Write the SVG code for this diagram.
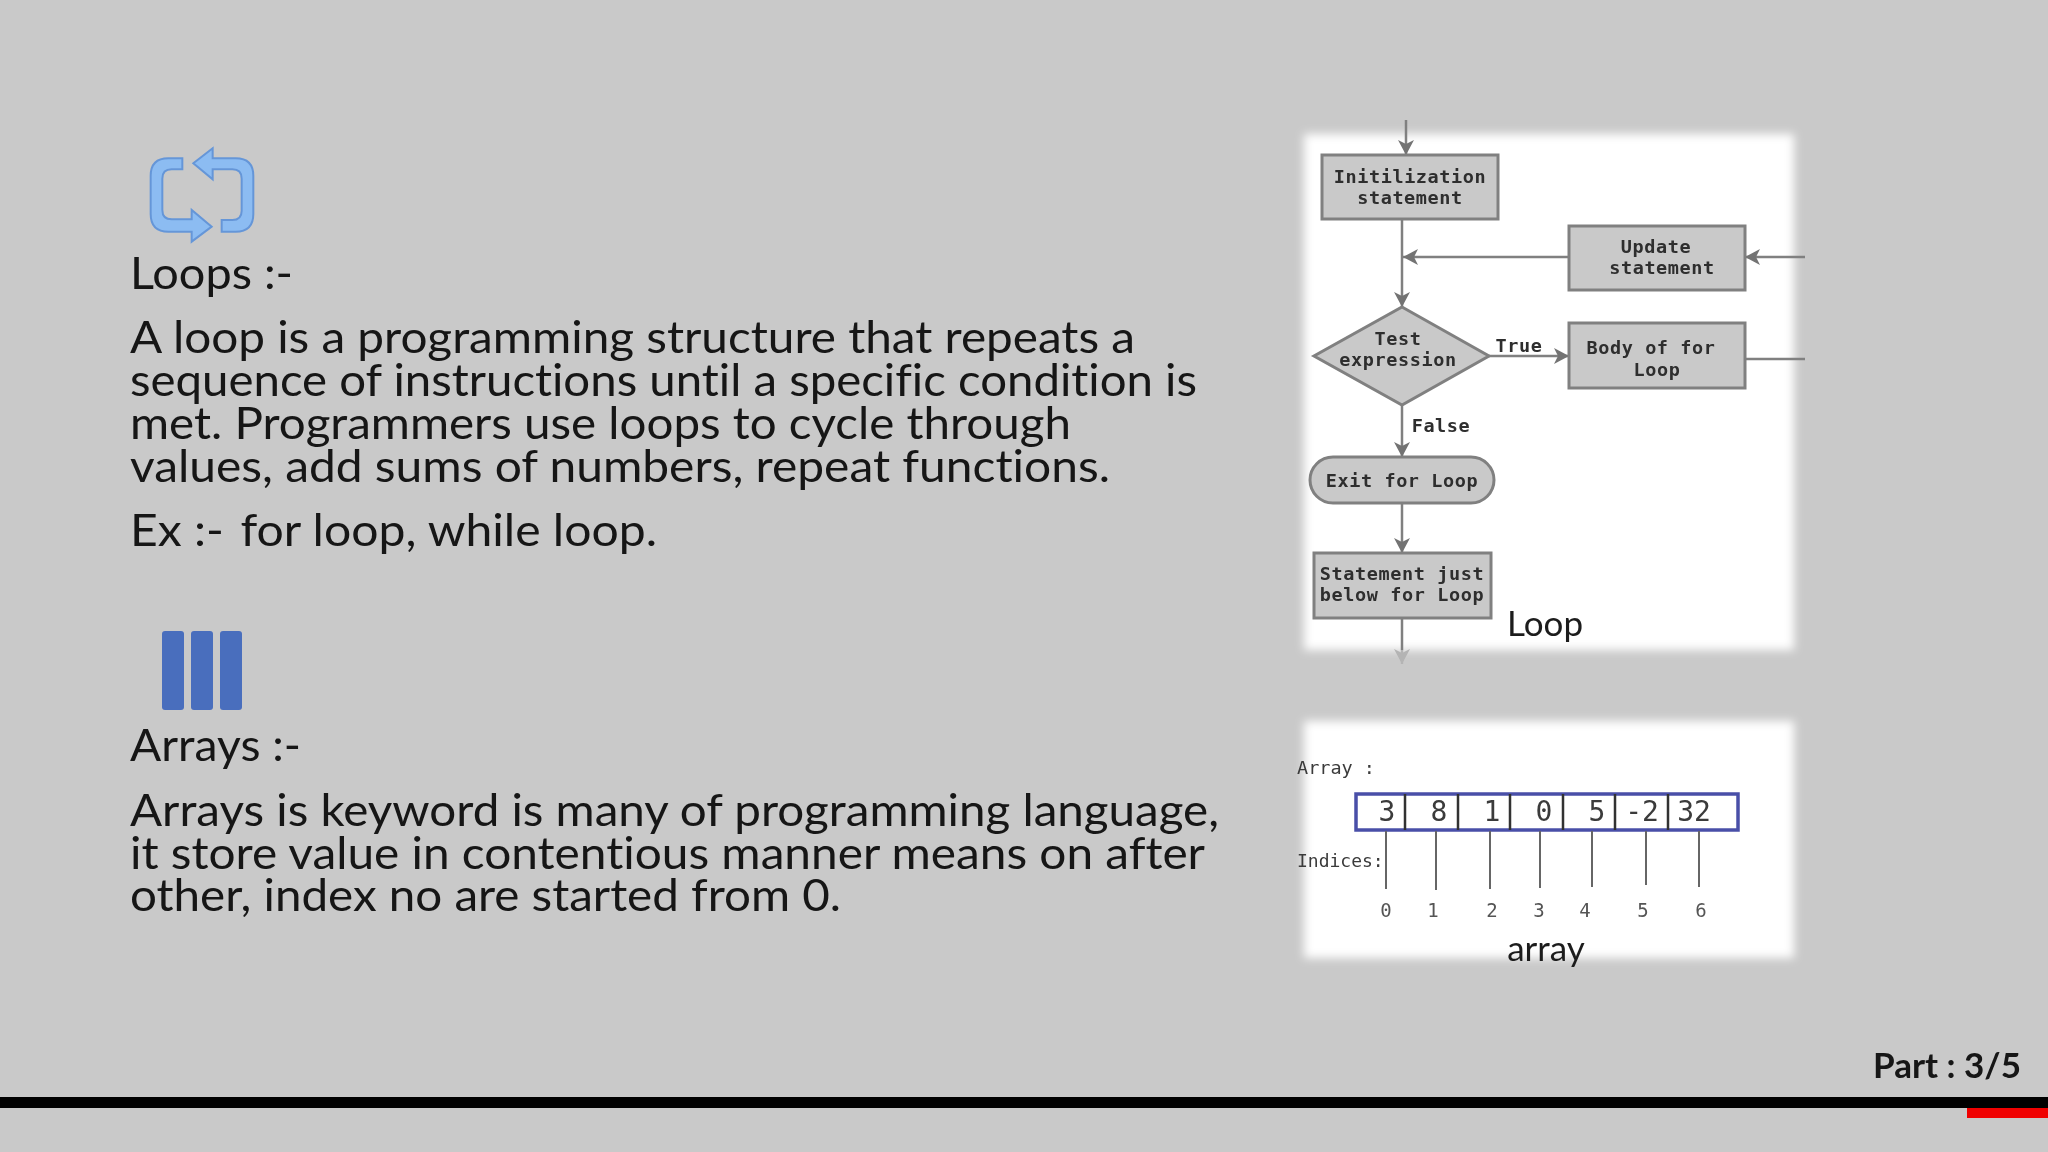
<svg xmlns="http://www.w3.org/2000/svg" width="2048" height="1152" viewBox="0 0 2048 1152">
<style>
text{font-variant-ligatures:none}
.t{font-family:Lato,"Open Sans",sans-serif;fill:#141414}
.b{font-size:45px}
.m{font-family:"DejaVu Sans Mono","Liberation Mono",monospace;font-size:18.5px;letter-spacing:.6px;font-weight:700;fill:#2e2e2e;text-anchor:middle}
.n{fill:#c9c9c9;stroke:#808080;stroke-width:3}
.c{fill:none;stroke:#808080;stroke-width:2.5}
.d{font-family:"DejaVu Sans Mono","Liberation Mono",monospace;fill:#3a3a3a}
.v{font-size:28px;text-anchor:middle}
.i{font-size:19px;text-anchor:middle;fill:#555}
.ix{stroke:#666;stroke-width:2}
.dv{stroke:#333;stroke-width:2.5}
.l{font-family:Lato,"Open Sans",sans-serif;font-size:35px;fill:#1c1c1c}
</style>
<defs>
<filter id="edge" filterUnits="userSpaceOnUse" x="1240" y="90" width="620" height="920"><feGaussianBlur stdDeviation="5"/></filter>
<filter id="soft" filterUnits="userSpaceOnUse" x="0" y="0" width="2048" height="1152"><feGaussianBlur stdDeviation="0.75"/></filter>
<marker id="a" markerUnits="userSpaceOnUse" markerWidth="16" markerHeight="16" refX="15" refY="8" orient="auto"><path d="M0 0L15 8L0 16L4 8Z" fill="#737373"/></marker>
<marker id="f" markerUnits="userSpaceOnUse" markerWidth="16" markerHeight="16" refX="15" refY="8" orient="auto"><path d="M0 0L15 8L0 16L4 8Z" fill="#b4b4b4"/></marker>
</defs>
<rect id="background" width="2048" height="1152" fill="#c9c9c9"/>
<g id="panels" filter="url(#edge)" fill="#fff">
<rect x="1304" y="134" width="490" height="516"/>
<rect x="1304" y="721" width="490" height="237"/>
</g>
<g filter="url(#soft)">
<g id="loops-icon" transform="translate(120 130) scale(.33333)">
<path d="M187 85V118H155Q127 118 127 146V240Q127 268 155 268H215V240L275 290L215 335V305H145Q92 305 92 252V138Q92 85 145 85Z" fill="#8cbcf2" stroke="#6596d8" stroke-width="6"/>
<path d="M305 305V270H337Q365 270 365 242V146Q365 118 337 118H278V148L220 100L278 55V85H347Q400 85 400 138V252Q400 305 347 305Z" fill="#8cbcf2" stroke="#6596d8" stroke-width="6"/>
</g>
<g id="arrays-icon" fill="#4a6ebd">
<rect x="162" y="631" width="22" height="79" rx="3"/>
<rect x="191" y="631" width="22" height="79" rx="3"/>
<rect x="220" y="631" width="22" height="79" rx="3"/>
</g>
<g id="left-text">
<text class="t b" x="130" y="289" textLength="163" lengthAdjust="spacingAndGlyphs">Loops :-</text>
<text class="t b" x="130" y="353" textLength="1005" lengthAdjust="spacingAndGlyphs">A loop is a programming structure that repeats a</text>
<text class="t b" x="130" y="396" textLength="1067" lengthAdjust="spacingAndGlyphs">sequence of instructions until a specific condition is</text>
<text class="t b" x="130" y="439" textLength="941" lengthAdjust="spacingAndGlyphs">met. Programmers use loops to cycle through</text>
<text class="t b" x="130" y="482" textLength="980" lengthAdjust="spacingAndGlyphs">values, add sums of numbers, repeat functions.</text>
<text class="t b" x="130" y="546" textLength="527" lengthAdjust="spacingAndGlyphs">Ex :-<tspan dx="4"> for loop, while loop.</tspan></text>
<text class="t b" x="130" y="761" textLength="171" lengthAdjust="spacingAndGlyphs">Arrays :-</text>
<text class="t b" x="130" y="826" textLength="1089" lengthAdjust="spacingAndGlyphs">Arrays is keyword is many of programming language,</text>
<text class="t b" x="130" y="869" textLength="1075" lengthAdjust="spacingAndGlyphs">it store value in contentious manner means on after</text>
<text class="t b" x="130" y="911" textLength="711" lengthAdjust="spacingAndGlyphs">other, index no are started from 0.</text>
</g>
<g id="connectors">
<path class="c" d="M1406 120V155" marker-end="url(#a)"/>
<path class="c" d="M1402 219V307" marker-end="url(#a)"/>
<path class="c" d="M1805 257H1745" marker-end="url(#a)"/>
<path class="c" d="M1569 257H1403" marker-end="url(#a)"/>
<path class="c" d="M1489 356H1569" marker-end="url(#a)"/>
<path class="c" d="M1745 359H1805"/>
<path class="c" d="M1402 405V457" marker-end="url(#a)"/>
<path class="c" d="M1402 503V553" marker-end="url(#a)"/>
<path class="c" d="M1402 618V650"/>
<path class="c" style="stroke:#b4b4b4" d="M1402 650V664" marker-end="url(#f)"/>
</g>
<g id="init"><rect class="n" x="1322" y="155" width="176" height="64"/><text class="m" x="1410" y="183">Initilization</text><text class="m" x="1410" y="204">statement</text></g>
<g id="update"><rect class="n" x="1569" y="226" width="176" height="64"/><text class="m" x="1656" y="253">Update</text><text class="m" x="1662" y="274">statement</text></g>
<g id="test"><path class="n" d="M1402 307L1489 356L1402 405L1314 356Z"/><text class="m" x="1398" y="345">Test</text><text class="m" x="1398" y="366">expression</text></g>
<g id="body"><rect class="n" x="1569" y="323" width="176" height="65"/><text class="m" x="1651" y="354">Body of for</text><text class="m" x="1657" y="376">Loop</text></g>
<g id="exit"><rect class="n" x="1310" y="457" width="184" height="46" rx="23"/><text class="m" x="1402" y="487">Exit for Loop</text></g>
<g id="after"><rect class="n" x="1314" y="553" width="177" height="65"/><text class="m" x="1402" y="580">Statement just</text><text class="m" x="1402" y="601">below for Loop</text></g>
<text class="m" x="1519" y="352">True</text>
<text class="m" x="1441" y="432">False</text>
<text class="l" x="1507" y="636">Loop</text>
<g id="array">
<text class="d" x="1297" y="774" font-size="18.5" fill="#666">Array :</text>
<text class="d" x="1297" y="867" font-size="18" fill="#666">Indices:</text>
<rect x="1356" y="794" width="382" height="36" fill="#fff" stroke="#4a4fa8" stroke-width="3.5"/>
<path class="dv" d="M1405 794V830M1458 794V830M1510 794V830M1563 794V830M1615 794V830M1668 794V830"/>
<g class="d v"><text x="1387" y="821">3</text><text x="1439" y="821">8</text><text x="1492" y="821">1</text><text x="1544" y="821">0</text><text x="1597" y="821">5</text><text x="1642" y="821">-2</text><text x="1694" y="821">32</text></g>
<path class="ix" d="M1386 831V889M1436 831V890M1490 831V889M1540 831V888M1592 831V887M1646 831V885M1699 831V887"/>
<g class="d i"><text x="1386" y="917">0</text><text x="1433" y="917">1</text><text x="1492" y="917">2</text><text x="1539" y="917">3</text><text x="1585" y="917">4</text><text x="1643" y="917">5</text><text x="1701" y="917">6</text></g>
<text class="l" x="1546" y="961" text-anchor="middle">array</text>
</g>
<g id="progress">
<text class="t" x="1873" y="1078" font-size="35" font-weight="700" textLength="148" lengthAdjust="spacingAndGlyphs">Part : 3/5</text>
<rect y="1097" width="2048" height="11" fill="#050505"/>
<rect x="1967" y="1108" width="81" height="10" fill="#f00000"/>
</g>
</g>
</svg>
